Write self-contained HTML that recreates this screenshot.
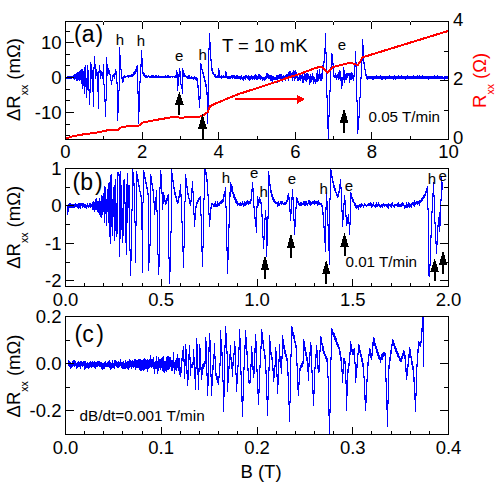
<!DOCTYPE html>
<html><head><meta charset="utf-8"><style>html,body{margin:0;padding:0;background:#fff;width:501px;height:501px;overflow:hidden}svg{display:block}</style></head>
<body><svg width="501" height="501" viewBox="0 0 501 501">
<rect width="501" height="501" fill="#fff"/>
<g fill="#0000ff" shape-rendering="crispEdges">
<path d="M66 77h1v2h-1zM67 76h1v3h-1zM68 76h1v3h-1zM69 76h1v3h-1zM70 76h1v3h-1zM71 76h1v3h-1zM72 76h1v2h-1zM73 75h1v4h-1zM74 74h1v6h-1zM75 74h1v5h-1zM76 73h1v8h-1zM77 72h1v9h-1zM78 72h1v8h-1zM79 71h1v10h-1zM80 70h1v10h-1zM81 69h1v15h-1zM82 69h1v20h-1zM83 71h1v15h-1zM84 67h1v27h-1zM85 65h1v22h-1zM86 78h1v20h-1zM87 65h1v25h-1zM88 70h1v21h-1zM89 89h1v16h-1zM90 62h1v31h-1zM91 64h1v15h-1zM92 70h1v22h-1zM93 67h1v40h-1zM94 56h1v13h-1zM95 64h1v15h-1zM96 69h1v7h-1zM97 72h1v20h-1zM98 71h1v38h-1zM99 65h1v8h-1zM100 70h1v9h-1zM101 71h1v5h-1zM102 72h1v7h-1zM103 64h1v21h-1zM104 84h1v18h-1zM105 99h1v18h-1zM106 57h1v44h-1zM107 64h1v12h-1zM108 68h1v6h-1zM109 70h1v5h-1zM110 74h1v7h-1zM111 80h1v5h-1zM112 75h1v6h-1zM113 74h1v3h-1zM114 73h1v6h-1zM115 69h1v6h-1zM116 71h1v13h-1zM117 82h1v39h-1zM118 90h1v23h-1zM119 47h1v44h-1zM120 55h1v15h-1zM121 69h1v10h-1zM122 77h1v6h-1zM123 76h1v6h-1zM124 75h1v3h-1zM125 76h1v2h-1zM126 76h1v1h-1zM127 75h1v2h-1zM128 75h1v3h-1zM129 75h1v2h-1zM130 75h1v2h-1zM131 74h1v3h-1zM132 74h1v3h-1zM133 72h1v4h-1zM134 71h1v4h-1zM135 69h1v5h-1zM136 66h1v6h-1zM137 65h1v29h-1zM138 91h1v33h-1zM139 81h1v31h-1zM140 64h1v19h-1zM141 50h1v17h-1zM142 58h1v16h-1zM143 72h1v4h-1zM144 73h1v4h-1zM145 75h1v3h-1zM146 75h1v3h-1zM147 76h1v2h-1zM148 75h1v2h-1zM149 76h1v2h-1zM150 76h1v2h-1zM151 75h1v3h-1zM152 75h1v3h-1zM153 75h1v3h-1zM154 76h1v2h-1zM155 75h1v3h-1zM156 75h1v3h-1zM157 76h1v2h-1zM158 75h1v3h-1zM159 76h1v2h-1zM160 76h1v2h-1zM161 76h1v2h-1zM162 76h1v2h-1zM163 76h1v2h-1zM164 76h1v2h-1zM165 75h1v3h-1zM166 76h1v2h-1zM167 75h1v3h-1zM168 75h1v3h-1zM169 76h1v2h-1zM170 76h1v2h-1zM171 76h1v1h-1zM172 76h1v2h-1zM173 76h1v1h-1zM174 76h1v2h-1zM175 75h1v3h-1zM176 70h1v8h-1zM177 72h1v19h-1zM178 74h1v12h-1zM179 68h1v9h-1zM180 71h1v14h-1zM181 84h1v5h-1zM182 68h1v26h-1zM183 70h1v7h-1zM184 73h1v4h-1zM185 75h1v2h-1zM186 76h1v2h-1zM187 76h1v3h-1zM188 75h1v4h-1zM189 75h1v4h-1zM190 77h1v2h-1zM191 76h1v3h-1zM192 77h1v2h-1zM193 77h1v3h-1zM194 76h1v3h-1zM195 77h1v3h-1zM196 77h1v4h-1zM197 78h1v10h-1zM198 85h1v15h-1zM199 96h1v12h-1zM200 63h1v36h-1zM201 64h1v6h-1zM202 69h1v5h-1zM203 72h1v6h-1zM204 76h1v6h-1zM205 80h1v7h-1zM206 84h1v11h-1zM207 92h1v32h-1zM208 48h1v62h-1zM209 33h1v17h-1zM210 42h1v19h-1zM211 59h1v12h-1zM212 68h1v6h-1zM213 72h1v3h-1zM214 74h1v3h-1zM215 74h1v4h-1zM216 76h1v2h-1zM217 75h1v3h-1zM218 68h1v10h-1zM219 70h1v8h-1zM220 76h1v2h-1zM221 75h1v4h-1zM222 76h1v2h-1zM223 75h1v3h-1zM224 76h1v2h-1zM225 71h1v7h-1zM226 72h1v6h-1zM227 76h1v3h-1zM228 76h1v3h-1zM229 76h1v3h-1zM230 76h1v3h-1zM231 75h1v3h-1zM232 75h1v4h-1zM233 75h1v3h-1zM234 75h1v4h-1zM235 76h1v3h-1zM236 75h1v4h-1zM237 75h1v4h-1zM238 76h1v3h-1zM239 76h1v3h-1zM240 76h1v4h-1zM241 75h1v4h-1zM242 77h1v3h-1zM243 76h1v5h-1zM244 76h1v3h-1zM245 75h1v5h-1zM246 75h1v3h-1zM247 76h1v3h-1zM248 75h1v5h-1zM249 76h1v5h-1zM250 76h1v4h-1zM251 75h1v4h-1zM252 76h1v4h-1zM253 76h1v3h-1zM254 75h1v5h-1zM255 74h1v5h-1zM256 75h1v5h-1zM257 76h1v4h-1zM258 74h1v5h-1zM259 74h1v5h-1zM260 75h1v5h-1zM261 76h1v3h-1zM262 77h1v4h-1zM263 77h1v3h-1zM264 77h1v4h-1zM265 76h1v4h-1zM266 73h1v6h-1zM267 73h1v5h-1zM268 74h1v5h-1zM269 75h1v4h-1zM270 75h1v6h-1zM271 75h1v6h-1zM272 76h1v6h-1zM273 76h1v4h-1zM274 77h1v3h-1zM275 77h1v3h-1zM276 75h1v5h-1zM277 75h1v8h-1zM278 75h1v4h-1zM279 74h1v5h-1zM280 74h1v5h-1zM281 74h1v7h-1zM282 76h1v6h-1zM283 75h1v5h-1zM284 76h1v4h-1zM285 75h1v6h-1zM286 74h1v5h-1zM287 74h1v5h-1zM288 72h1v9h-1zM289 71h1v7h-1zM290 71h1v6h-1zM291 73h1v3h-1zM292 72h1v9h-1zM293 70h1v8h-1zM294 71h1v10h-1zM295 70h1v9h-1zM296 72h1v6h-1zM297 74h1v7h-1zM298 77h1v4h-1zM299 73h1v7h-1zM300 74h1v7h-1zM301 75h1v4h-1zM302 74h1v9h-1zM303 76h1v7h-1zM304 73h1v7h-1zM305 74h1v7h-1zM306 73h1v9h-1zM307 73h1v7h-1zM308 74h1v5h-1zM309 76h1v9h-1zM310 74h1v9h-1zM311 76h1v6h-1zM312 73h1v7h-1zM313 76h1v8h-1zM314 77h1v5h-1zM315 79h1v5h-1zM316 73h1v9h-1zM317 70h1v12h-1zM318 74h1v7h-1zM319 69h1v10h-1zM320 74h1v7h-1zM321 73h1v8h-1zM322 65h1v14h-1zM323 61h1v6h-1zM324 48h1v15h-1zM325 33h1v21h-1zM326 52h1v46h-1zM327 95h1v34h-1zM328 115h1v24h-1zM329 90h1v27h-1zM330 67h1v25h-1zM331 53h1v16h-1zM332 54h1v11h-1zM333 63h1v14h-1zM334 75h1v3h-1zM335 73h1v5h-1zM336 75h1v5h-1zM337 74h1v4h-1zM338 72h1v8h-1zM339 70h1v9h-1zM340 71h1v10h-1zM341 77h1v12h-1zM342 77h1v9h-1zM343 67h1v13h-1zM344 70h1v13h-1zM345 74h1v6h-1zM346 73h1v7h-1zM347 73h1v5h-1zM348 73h1v3h-1zM349 73h1v10h-1zM350 73h1v7h-1zM351 72h1v8h-1zM352 73h1v6h-1zM353 75h1v6h-1zM354 65h1v12h-1zM355 51h1v16h-1zM356 62h1v40h-1zM357 100h1v34h-1zM358 116h1v14h-1zM359 97h1v21h-1zM360 77h1v21h-1zM361 59h1v20h-1zM362 39h1v22h-1zM363 45h1v19h-1zM364 62h1v8h-1zM365 69h1v7h-1zM366 74h1v5h-1zM367 76h1v4h-1zM368 76h1v3h-1zM369 76h1v3h-1zM370 76h1v3h-1zM371 76h1v3h-1zM372 76h1v4h-1zM373 76h1v4h-1zM374 76h1v3h-1zM375 76h1v3h-1zM376 75h1v4h-1zM377 76h1v3h-1zM378 76h1v3h-1zM379 76h1v3h-1zM380 75h1v4h-1zM381 76h1v4h-1zM382 76h1v4h-1zM383 76h1v3h-1zM384 76h1v3h-1zM385 76h1v4h-1zM386 76h1v3h-1zM387 76h1v3h-1zM388 76h1v3h-1zM389 75h1v4h-1zM390 76h1v3h-1zM391 76h1v3h-1zM392 76h1v3h-1zM393 76h1v4h-1zM394 75h1v4h-1zM395 76h1v4h-1zM396 76h1v3h-1zM397 76h1v3h-1zM398 75h1v4h-1zM399 76h1v3h-1zM400 76h1v3h-1zM401 75h1v4h-1zM402 76h1v3h-1zM403 76h1v3h-1zM404 76h1v3h-1zM405 76h1v4h-1zM406 76h1v3h-1zM407 75h1v4h-1zM408 76h1v3h-1zM409 76h1v3h-1zM410 76h1v3h-1zM411 76h1v3h-1zM412 76h1v3h-1zM413 75h1v4h-1zM414 76h1v3h-1zM415 76h1v3h-1zM416 76h1v3h-1zM417 75h1v4h-1zM418 76h1v3h-1zM419 75h1v4h-1zM420 76h1v3h-1zM421 76h1v3h-1zM422 75h1v4h-1zM423 76h1v3h-1zM424 76h1v3h-1zM425 76h1v3h-1zM426 76h1v3h-1zM427 76h1v3h-1zM428 76h1v4h-1zM429 76h1v3h-1zM430 76h1v3h-1zM431 76h1v3h-1zM432 76h1v3h-1zM433 76h1v3h-1zM434 75h1v4h-1zM435 76h1v3h-1zM436 76h1v3h-1zM437 75h1v4h-1zM438 76h1v3h-1zM439 76h1v3h-1zM440 76h1v3h-1zM441 76h1v3h-1zM442 76h1v3h-1zM443 77h1v2h-1zM444 76h1v4h-1zM445 76h1v3h-1zM446 76h1v3h-1zM447 76h1v3h-1z"/>
<path d="M67 205h1v10h-1zM68 204h1v8h-1zM69 203h1v5h-1zM70 203h1v5h-1zM71 204h1v4h-1zM72 204h1v4h-1zM73 204h1v4h-1zM74 204h1v4h-1zM75 203h1v4h-1zM76 204h1v3h-1zM77 204h1v4h-1zM78 203h1v6h-1zM79 203h1v5h-1zM80 203h1v6h-1zM81 203h1v3h-1zM82 203h1v5h-1zM83 203h1v4h-1zM84 204h1v4h-1zM85 204h1v4h-1zM86 205h1v4h-1zM87 203h1v4h-1zM88 205h1v3h-1zM89 203h1v4h-1zM90 203h1v5h-1zM91 204h1v3h-1zM92 202h1v8h-1zM93 201h1v9h-1zM94 202h1v10h-1zM95 199h1v11h-1zM96 198h1v12h-1zM97 201h1v11h-1zM98 201h1v12h-1zM99 198h1v17h-1zM100 201h1v16h-1zM101 195h1v23h-1zM102 196h1v19h-1zM103 193h1v19h-1zM104 186h1v37h-1zM105 187h1v27h-1zM106 199h1v27h-1zM107 189h1v23h-1zM108 183h1v40h-1zM109 182h1v55h-1zM110 175h1v69h-1zM111 174h1v53h-1zM112 199h1v37h-1zM113 187h1v30h-1zM114 185h1v56h-1zM115 179h1v52h-1zM116 203h1v34h-1zM117 172h1v62h-1zM118 172h1v4h-1zM119 174h1v83h-1zM120 171h1v68h-1zM121 185h1v45h-1zM122 208h1v35h-1zM123 180h1v56h-1zM124 179h1v25h-1zM125 202h1v41h-1zM126 184h1v71h-1zM127 173h1v50h-1zM128 185h1v23h-1zM129 185h1v66h-1zM130 249h1v27h-1zM131 209h1v52h-1zM132 169h1v42h-1zM133 172h1v14h-1zM134 183h1v40h-1zM135 221h1v42h-1zM136 171h1v55h-1zM137 174h1v8h-1zM138 179h1v8h-1zM139 185h1v7h-1zM140 191h1v6h-1zM141 195h1v35h-1zM142 202h1v71h-1zM143 170h1v33h-1zM144 172h1v7h-1zM145 177h1v7h-1zM146 182h1v7h-1zM147 187h1v8h-1zM148 193h1v78h-1zM149 244h1v19h-1zM150 174h1v72h-1zM151 176h1v9h-1zM152 183h1v8h-1zM153 189h1v14h-1zM154 201h1v14h-1zM155 197h1v13h-1zM156 190h1v22h-1zM157 210h1v45h-1zM158 254h1v21h-1zM159 187h1v80h-1zM160 170h1v19h-1zM161 174h1v20h-1zM162 192h1v18h-1zM163 192h1v12h-1zM164 195h1v7h-1zM165 200h1v5h-1zM166 198h1v6h-1zM167 195h1v6h-1zM168 194h1v65h-1zM169 257h1v27h-1zM170 231h1v41h-1zM171 169h1v64h-1zM172 173h1v9h-1zM173 180h1v9h-1zM174 187h1v8h-1zM175 192h1v6h-1zM176 196h1v6h-1zM177 200h1v4h-1zM178 196h1v7h-1zM179 190h1v8h-1zM180 184h1v13h-1zM181 194h1v29h-1zM182 221h1v31h-1zM183 246h1v22h-1zM184 201h1v47h-1zM185 174h1v28h-1zM186 178h1v10h-1zM187 186h1v9h-1zM188 193h1v6h-1zM189 198h1v6h-1zM190 200h1v6h-1zM191 188h1v14h-1zM192 181h1v12h-1zM193 191h1v24h-1zM194 213h1v14h-1zM195 206h1v14h-1zM196 202h1v6h-1zM197 200h1v4h-1zM198 198h1v4h-1zM199 197h1v3h-1zM200 196h1v20h-1zM201 214h1v38h-1zM202 246h1v21h-1zM203 198h1v50h-1zM204 169h1v31h-1zM205 169h1v6h-1zM206 172h1v10h-1zM207 179h1v17h-1zM208 194h1v21h-1zM209 213h1v14h-1zM210 207h1v13h-1zM211 203h1v6h-1zM212 203h1v2h-1zM213 204h1v3h-1zM214 203h1v4h-1zM215 201h1v6h-1zM216 204h1v3h-1zM217 201h1v6h-1zM218 203h1v3h-1zM219 202h1v4h-1zM220 201h1v3h-1zM221 200h1v4h-1zM222 199h1v4h-1zM223 194h1v8h-1zM224 191h1v6h-1zM225 187h1v21h-1zM226 206h1v45h-1zM227 247h1v27h-1zM228 224h1v36h-1zM229 192h1v36h-1zM230 182h1v15h-1zM231 184h1v8h-1zM232 186h1v8h-1zM233 192h1v6h-1zM234 194h1v6h-1zM235 197h1v6h-1zM236 199h1v5h-1zM237 201h1v5h-1zM238 203h1v2h-1zM239 203h1v3h-1zM240 202h1v4h-1zM241 203h1v3h-1zM242 201h1v4h-1zM243 203h1v4h-1zM244 201h1v5h-1zM245 202h1v4h-1zM246 201h1v4h-1zM247 200h1v4h-1zM248 201h1v4h-1zM249 201h1v3h-1zM250 199h1v5h-1zM251 189h1v12h-1zM252 182h1v10h-1zM253 188h1v20h-1zM254 206h1v13h-1zM255 217h1v10h-1zM256 206h1v27h-1zM257 196h1v12h-1zM258 199h1v7h-1zM259 197h1v6h-1zM260 199h1v5h-1zM261 202h1v15h-1zM262 214h1v24h-1zM263 236h1v13h-1zM264 218h1v22h-1zM265 210h1v10h-1zM266 217h1v40h-1zM267 216h1v30h-1zM268 171h1v48h-1zM269 175h1v11h-1zM270 184h1v9h-1zM271 190h1v7h-1zM272 194h1v6h-1zM273 197h1v5h-1zM274 199h1v4h-1zM275 201h1v3h-1zM276 202h1v2h-1zM277 202h1v5h-1zM278 201h1v5h-1zM279 203h1v3h-1zM280 201h1v3h-1zM281 201h1v4h-1zM282 201h1v3h-1zM283 203h1v2h-1zM284 202h1v3h-1zM285 202h1v3h-1zM286 200h1v4h-1zM287 195h1v7h-1zM288 193h1v7h-1zM289 197h1v15h-1zM290 209h1v12h-1zM291 197h1v17h-1zM292 189h1v11h-1zM293 197h1v24h-1zM294 219h1v16h-1zM295 207h1v20h-1zM296 197h1v12h-1zM297 198h1v5h-1zM298 201h1v4h-1zM299 203h1v3h-1zM300 202h1v4h-1zM301 202h1v4h-1zM302 203h1v2h-1zM303 201h1v4h-1zM304 201h1v5h-1zM305 201h1v5h-1zM306 201h1v4h-1zM307 203h1v3h-1zM308 200h1v4h-1zM309 200h1v5h-1zM310 201h1v5h-1zM311 202h1v3h-1zM312 201h1v3h-1zM313 201h1v3h-1zM314 200h1v5h-1zM315 201h1v3h-1zM316 201h1v3h-1zM317 201h1v5h-1zM318 200h1v5h-1zM319 202h1v3h-1zM320 203h1v2h-1zM321 203h1v4h-1zM322 205h1v10h-1zM323 212h1v16h-1zM324 226h1v17h-1zM325 207h1v45h-1zM326 192h1v18h-1zM327 201h1v25h-1zM328 224h1v27h-1zM329 198h1v67h-1zM330 169h1v31h-1zM331 170h1v8h-1zM332 176h1v7h-1zM333 181h1v7h-1zM334 185h1v6h-1zM335 188h1v5h-1zM336 192h1v4h-1zM337 194h1v4h-1zM338 191h1v6h-1zM339 184h1v9h-1zM340 179h1v10h-1zM341 187h1v25h-1zM342 210h1v17h-1zM343 203h1v17h-1zM344 195h1v10h-1zM345 200h1v17h-1zM346 215h1v11h-1zM347 217h1v7h-1zM348 214h1v10h-1zM349 222h1v13h-1zM350 192h1v33h-1zM351 193h1v6h-1zM352 197h1v5h-1zM353 199h1v4h-1zM354 202h1v4h-1zM355 203h1v5h-1zM356 205h1v4h-1zM357 205h1v3h-1zM358 205h1v5h-1zM359 204h1v3h-1zM360 204h1v4h-1zM361 203h1v4h-1zM362 204h1v2h-1zM363 205h1v3h-1zM364 203h1v3h-1zM365 204h1v2h-1zM366 205h1v2h-1zM367 204h1v2h-1zM368 203h1v3h-1zM369 203h1v3h-1zM370 202h1v4h-1zM371 203h1v5h-1zM372 204h1v3h-1zM373 202h1v4h-1zM374 205h1v2h-1zM375 204h1v4h-1zM376 202h1v5h-1zM377 204h1v3h-1zM378 202h1v4h-1zM379 204h1v3h-1zM380 205h1v3h-1zM381 204h1v3h-1zM382 204h1v4h-1zM383 203h1v3h-1zM384 204h1v3h-1zM385 204h1v2h-1zM386 204h1v3h-1zM387 204h1v4h-1zM388 203h1v6h-1zM389 204h1v2h-1zM390 204h1v3h-1zM391 203h1v5h-1zM392 202h1v4h-1zM393 205h1v2h-1zM394 204h1v4h-1zM395 204h1v2h-1zM396 204h1v2h-1zM397 203h1v4h-1zM398 202h1v5h-1zM399 204h1v3h-1zM400 204h1v3h-1zM401 203h1v4h-1zM402 202h1v4h-1zM403 203h1v3h-1zM404 205h1v4h-1zM405 205h1v3h-1zM406 202h1v6h-1zM407 204h1v4h-1zM408 202h1v5h-1zM409 203h1v5h-1zM410 204h1v3h-1zM411 203h1v5h-1zM412 202h1v3h-1zM413 202h1v4h-1zM414 200h1v7h-1zM415 202h1v3h-1zM416 201h1v3h-1zM417 201h1v4h-1zM418 201h1v3h-1zM419 200h1v6h-1zM420 200h1v3h-1zM421 198h1v4h-1zM422 197h1v4h-1zM423 195h1v4h-1zM424 194h1v4h-1zM425 191h1v5h-1zM426 188h1v5h-1zM427 186h1v24h-1zM428 208h1v68h-1zM429 264h1v13h-1zM430 235h1v31h-1zM431 211h1v27h-1zM432 193h1v20h-1zM433 182h1v15h-1zM434 195h1v29h-1zM435 222h1v22h-1zM436 241h1v13h-1zM437 225h1v20h-1zM438 217h1v10h-1zM439 212h1v20h-1zM440 199h1v27h-1zM441 177h1v24h-1zM442 182h1v8h-1z"/>
<path d="M68 360h1v6h-1zM69 361h1v6h-1zM70 362h1v7h-1zM71 363h1v5h-1zM72 361h1v6h-1zM73 360h1v6h-1zM74 360h1v7h-1zM75 361h1v5h-1zM76 363h1v6h-1zM77 362h1v6h-1zM78 361h1v6h-1zM79 362h1v5h-1zM80 361h1v8h-1zM81 361h1v5h-1zM82 362h1v5h-1zM83 361h1v5h-1zM84 361h1v9h-1zM85 361h1v8h-1zM86 363h1v5h-1zM87 362h1v6h-1zM88 363h1v6h-1zM89 362h1v6h-1zM90 361h1v6h-1zM91 362h1v6h-1zM92 361h1v6h-1zM93 362h1v5h-1zM94 361h1v7h-1zM95 362h1v7h-1zM96 362h1v5h-1zM97 361h1v6h-1zM98 361h1v5h-1zM99 361h1v6h-1zM100 362h1v5h-1zM101 362h1v7h-1zM102 363h1v7h-1zM103 363h1v6h-1zM104 362h1v7h-1zM105 361h1v6h-1zM106 363h1v4h-1zM107 362h1v5h-1zM108 361h1v6h-1zM109 360h1v8h-1zM110 362h1v8h-1zM111 363h1v6h-1zM112 360h1v8h-1zM113 363h1v5h-1zM114 360h1v9h-1zM115 360h1v6h-1zM116 361h1v6h-1zM117 362h1v6h-1zM118 361h1v7h-1zM119 362h1v5h-1zM120 359h1v7h-1zM121 362h1v6h-1zM122 362h1v7h-1zM123 361h1v8h-1zM124 363h1v6h-1zM125 360h1v9h-1zM126 362h1v6h-1zM127 361h1v8h-1zM128 361h1v9h-1zM129 359h1v9h-1zM130 360h1v7h-1zM131 361h1v8h-1zM132 360h1v7h-1zM133 361h1v7h-1zM134 359h1v8h-1zM135 359h1v11h-1zM136 360h1v8h-1zM137 360h1v8h-1zM138 359h1v9h-1zM139 359h1v11h-1zM140 359h1v12h-1zM141 360h1v11h-1zM142 360h1v10h-1zM143 359h1v12h-1zM144 358h1v12h-1zM145 359h1v10h-1zM146 360h1v9h-1zM147 359h1v13h-1zM148 360h1v9h-1zM149 359h1v9h-1zM150 355h1v12h-1zM151 359h1v9h-1zM152 359h1v8h-1zM153 357h1v12h-1zM154 362h1v12h-1zM155 361h1v8h-1zM156 356h1v13h-1zM157 361h1v13h-1zM158 357h1v14h-1zM159 359h1v9h-1zM160 359h1v11h-1zM161 358h1v10h-1zM162 357h1v14h-1zM163 356h1v16h-1zM164 361h1v12h-1zM165 361h1v10h-1zM166 357h1v15h-1zM167 356h1v14h-1zM168 356h1v14h-1zM169 357h1v12h-1zM170 357h1v10h-1zM171 360h1v11h-1zM172 360h1v11h-1zM173 352h1v16h-1zM174 362h1v12h-1zM175 360h1v10h-1zM176 358h1v13h-1zM177 354h1v14h-1zM178 358h1v13h-1zM179 358h1v17h-1zM180 367h1v10h-1zM181 358h1v15h-1zM182 350h1v11h-1zM183 346h1v16h-1zM184 359h1v20h-1zM185 344h1v22h-1zM186 349h1v25h-1zM187 370h1v16h-1zM188 354h1v26h-1zM189 345h1v15h-1zM190 357h1v19h-1zM191 364h1v4h-1zM192 362h1v6h-1zM193 349h1v16h-1zM194 357h1v22h-1zM195 367h1v23h-1zM196 338h1v31h-1zM197 344h1v31h-1zM198 368h1v22h-1zM199 344h1v28h-1zM200 348h1v22h-1zM201 367h1v13h-1zM202 364h1v11h-1zM203 363h1v6h-1zM204 361h1v6h-1zM205 337h1v27h-1zM206 341h1v35h-1zM207 373h1v23h-1zM208 347h1v39h-1zM209 333h1v19h-1zM210 340h1v37h-1zM211 374h1v22h-1zM212 365h1v21h-1zM213 354h1v16h-1zM214 343h1v16h-1zM215 356h1v20h-1zM216 373h1v7h-1zM217 376h1v7h-1zM218 376h1v9h-1zM219 363h1v15h-1zM220 330h1v36h-1zM221 339h1v17h-1zM222 352h1v30h-1zM223 380h1v32h-1zM224 345h1v52h-1zM225 326h1v22h-1zM226 333h1v21h-1zM227 351h1v41h-1zM228 366h1v17h-1zM229 354h1v15h-1zM230 345h1v15h-1zM231 357h1v12h-1zM232 362h1v15h-1zM233 353h1v13h-1zM234 341h1v14h-1zM235 346h1v29h-1zM236 373h1v19h-1zM237 365h1v19h-1zM238 347h1v20h-1zM239 329h1v21h-1zM240 338h1v37h-1zM241 371h1v31h-1zM242 396h1v21h-1zM243 367h1v34h-1zM244 345h1v25h-1zM245 330h1v19h-1zM246 337h1v18h-1zM247 351h1v20h-1zM248 368h1v15h-1zM249 380h1v4h-1zM250 364h1v19h-1zM251 346h1v21h-1zM252 352h1v18h-1zM253 366h1v12h-1zM254 348h1v26h-1zM255 334h1v19h-1zM256 341h1v31h-1zM257 369h1v25h-1zM258 389h1v16h-1zM259 365h1v28h-1zM260 346h1v22h-1zM261 329h1v20h-1zM262 332h1v12h-1zM263 340h1v11h-1zM264 349h1v10h-1zM265 355h1v19h-1zM266 370h1v30h-1zM267 396h1v20h-1zM268 367h1v33h-1zM269 335h1v36h-1zM270 341h1v14h-1zM271 352h1v8h-1zM272 357h1v14h-1zM273 368h1v14h-1zM274 365h1v13h-1zM275 347h1v20h-1zM276 351h1v26h-1zM277 374h1v20h-1zM278 359h1v26h-1zM279 344h1v18h-1zM280 356h1v12h-1zM281 356h1v18h-1zM282 335h1v24h-1zM283 339h1v10h-1zM284 345h1v9h-1zM285 350h1v7h-1zM286 354h1v7h-1zM287 358h1v18h-1zM288 372h1v33h-1zM289 401h1v21h-1zM290 354h1v49h-1zM291 326h1v31h-1zM292 327h1v9h-1zM293 332h1v7h-1zM294 335h1v8h-1zM295 341h1v7h-1zM296 345h1v21h-1zM297 363h1v27h-1zM298 382h1v14h-1zM299 368h1v17h-1zM300 365h1v6h-1zM301 363h1v5h-1zM302 361h1v6h-1zM303 339h1v25h-1zM304 341h1v10h-1zM305 347h1v9h-1zM306 352h1v9h-1zM307 357h1v15h-1zM308 363h1v18h-1zM309 352h1v15h-1zM310 342h1v14h-1zM311 345h1v28h-1zM312 370h1v24h-1zM313 390h1v16h-1zM314 367h1v27h-1zM315 354h1v15h-1zM316 345h1v13h-1zM317 350h1v19h-1zM318 365h1v8h-1zM319 350h1v22h-1zM320 336h1v16h-1zM321 337h1v8h-1zM322 343h1v8h-1zM323 346h1v8h-1zM324 351h1v5h-1zM325 354h1v5h-1zM326 356h1v6h-1zM327 358h1v20h-1zM328 376h1v40h-1zM329 409h1v25h-1zM330 357h1v56h-1zM331 328h1v32h-1zM332 329h1v6h-1zM333 332h1v5h-1zM334 333h1v7h-1zM335 336h1v6h-1zM336 338h1v7h-1zM337 342h1v5h-1zM338 344h1v5h-1zM339 347h1v8h-1zM340 351h1v10h-1zM341 357h1v15h-1zM342 369h1v14h-1zM343 358h1v16h-1zM344 358h1v6h-1zM345 361h1v23h-1zM346 380h1v31h-1zM347 369h1v27h-1zM348 363h1v10h-1zM349 352h1v14h-1zM350 341h1v14h-1zM351 344h1v8h-1zM352 349h1v6h-1zM353 349h1v6h-1zM354 348h1v16h-1zM355 362h1v21h-1zM356 364h1v14h-1zM357 353h1v15h-1zM358 344h1v11h-1zM359 345h1v8h-1zM360 350h1v7h-1zM361 354h1v8h-1zM362 358h1v9h-1zM363 363h1v15h-1zM364 376h1v24h-1zM365 395h1v16h-1zM366 379h1v24h-1zM367 362h1v20h-1zM368 354h1v12h-1zM369 348h1v8h-1zM370 349h1v9h-1zM371 353h1v7h-1zM372 342h1v14h-1zM373 337h1v9h-1zM374 338h1v8h-1zM375 343h1v6h-1zM376 346h1v7h-1zM377 349h1v7h-1zM378 352h1v7h-1zM379 355h1v5h-1zM380 357h1v6h-1zM381 354h1v6h-1zM382 353h1v7h-1zM383 352h1v5h-1zM384 352h1v4h-1zM385 353h1v29h-1zM386 378h1v32h-1zM387 400h1v27h-1zM388 365h1v39h-1zM389 357h1v12h-1zM390 350h1v11h-1zM391 344h1v10h-1zM392 339h1v7h-1zM393 340h1v6h-1zM394 343h1v6h-1zM395 346h1v6h-1zM396 348h1v6h-1zM397 351h1v6h-1zM398 353h1v5h-1zM399 356h1v5h-1zM400 358h1v4h-1zM401 356h1v6h-1zM402 353h1v6h-1zM403 350h1v6h-1zM404 351h1v8h-1zM405 355h1v17h-1zM406 368h1v12h-1zM407 364h1v12h-1zM408 354h1v13h-1zM409 347h1v11h-1zM410 349h1v9h-1zM411 356h1v9h-1zM412 361h1v9h-1zM413 366h1v16h-1zM414 377h1v23h-1zM415 393h1v19h-1zM416 364h1v32h-1zM417 349h1v18h-1zM418 341h1v12h-1zM419 342h1v4h-1zM420 341h1v6h-1zM421 328h1v15h-1zM422 317h1v15h-1zM423 317h1v50h-1z"/>
</g>
<polyline points="65.5,138.5 72.4,136.4 83.6,134.3 94.7,132.9 105.9,130.8 108.7,129.5 118.5,129.5 121.3,127.4 130.0,125.8 137.7,126.5 143.3,122.4 158.0,119.6 173.3,117.0 179.0,117.5 181.7,118.0 184.0,117.5 200.0,116.5 204.0,115.0 208.0,111.7 210.0,106.3 214.3,104.0 230.0,97.5 238.5,94.1 266.7,85.0 290.0,77.0 300.0,73.9 315.0,68.1 322.0,66.5 327.4,72.9 333.4,66.9 350.7,62.7 357.9,65.1 362.7,57.3 370.0,55.0 448.0,31.0" fill="none" stroke="#ff0000" stroke-width="2" shape-rendering="crispEdges"/>
<rect x="235" y="98" width="63" height="2" fill="#ff0000" shape-rendering="crispEdges"/>
<polygon points="297,95 305,99 297,104" fill="#ff0000" shape-rendering="crispEdges"/>
<path d="M65 21H449V140H65z M66 22V139H448V22z M65 168H449V287H65z M66 169V286H448V169z M65 316H449V435H65z M66 317V434H448V317z M103 136V139h1V136z M103 21V25h1V21z M142 132V139h1V132z M142 21V29h1V21z M180 136V139h1V136z M180 21V25h1V21z M218 132V139h1V132z M218 21V29h1V21z M257 136V139h1V136z M257 21V25h1V21z M295 132V139h1V132z M295 21V29h1V21z M333 136V139h1V136z M333 21V25h1V21z M371 132V139h1V132z M371 21V29h1V21z M410 136V139h1V136z M410 21V25h1V21z M84 283V286h1V283z M103 283V286h1V283z M122 283V286h1V283z M142 283V286h1V283z M161 279V286h1V279z M180 283V286h1V283z M199 283V286h1V283z M218 283V286h1V283z M237 283V286h1V283z M257 279V286h1V279z M276 283V286h1V283z M295 283V286h1V283z M314 283V286h1V283z M333 283V286h1V283z M352 279V286h1V279z M371 283V286h1V283z M391 283V286h1V283z M410 283V286h1V283z M429 283V286h1V283z M84 431V434h1V431z M103 431V434h1V431z M122 431V434h1V431z M142 431V434h1V431z M161 427V434h1V427z M180 431V434h1V431z M199 431V434h1V431z M218 431V434h1V431z M237 431V434h1V431z M257 427V434h1V427z M276 431V434h1V431z M295 431V434h1V431z M314 431V434h1V431z M333 431V434h1V431z M352 427V434h1V427z M371 431V434h1V431z M391 431V434h1V431z M410 431V434h1V431z M429 431V434h1V431z M65 42H74v1H65z M65 77H74v1H65z M65 112H74v1H65z M65 31H70v1H65z M65 54H70v1H65z M65 65H70v1H65z M65 89H70v1H65z M65 100H70v1H65z M65 124H70v1H65z M65 135H70v1H65z M440 80H448v1H440z M444 51H448v1H444z M444 110H448v1H444z M65 205H74v1H65z M440 205H448v1H440z M65 243H74v1H65z M440 243H448v1H440z M65 280H74v1H65z M440 280H448v1H440z M65 187H70v1H65z M444 187H448v1H444z M65 224H70v1H65z M444 224H448v1H444z M65 262H70v1H65z M444 262H448v1H444z M440 168H448v1H440z M65 363H74v1H65z M440 363H448v1H440z M65 410H74v1H65z M440 410H448v1H440z M65 340H70v1H65z M444 340H448v1H444z M65 387H70v1H65z M444 387H448v1H444z M440 316H448v1H440z" fill="#000" shape-rendering="crispEdges"/>
<polygon points="179.3,91.4 183.8,104.6 174.8,104.6" fill="#000" shape-rendering="crispEdges"/><rect x="178.3" y="103.6" width="2.0" height="11.1" fill="#000" shape-rendering="crispEdges"/>
<polygon points="202.5,114.1 207.0,128.5 198.0,128.5" fill="#000" shape-rendering="crispEdges"/><rect x="201.5" y="127.5" width="2.0" height="12.5" fill="#000" shape-rendering="crispEdges"/>
<polygon points="344.1,108.1 348.3,122.5 339.9,122.5" fill="#000" shape-rendering="crispEdges"/><rect x="343.1" y="121.5" width="2.0" height="11.2" fill="#000" shape-rendering="crispEdges"/>
<polygon points="265.0,254.8 269.0,269.5 261.0,269.5" fill="#000" shape-rendering="crispEdges"/><rect x="264.0" y="268.5" width="2.0" height="10.8" fill="#000" shape-rendering="crispEdges"/>
<polygon points="291.0,232.9 295.0,247.8 287.0,247.8" fill="#000" shape-rendering="crispEdges"/><rect x="290.0" y="246.8" width="2.0" height="10.8" fill="#000" shape-rendering="crispEdges"/>
<polygon points="326.2,259.7 330.2,273.7 322.2,273.7" fill="#000" shape-rendering="crispEdges"/><rect x="325.2" y="272.7" width="2.0" height="10.8" fill="#000" shape-rendering="crispEdges"/>
<polygon points="344.5,232.5 348.8,247.1 340.2,247.1" fill="#000" shape-rendering="crispEdges"/><rect x="343.5" y="246.1" width="2.0" height="10.1" fill="#000" shape-rendering="crispEdges"/>
<polygon points="434.6,258.3 438.8,271.6 430.4,271.6" fill="#000" shape-rendering="crispEdges"/><rect x="433.6" y="270.6" width="2.0" height="10.8" fill="#000" shape-rendering="crispEdges"/>
<polygon points="443.1,250.0 447.1,264.6 439.1,264.6" fill="#000" shape-rendering="crispEdges"/><rect x="442.1" y="263.6" width="2.0" height="10.8" fill="#000" shape-rendering="crispEdges"/>
<g font-family="Liberation Sans"><text x="61.5" y="48.5" font-size="18.5" text-anchor="end" fill="#000" >10</text><text x="61.5" y="83.5" font-size="18.5" text-anchor="end" fill="#000" >0</text><text x="61.5" y="118.5" font-size="18.5" text-anchor="end" fill="#000" >-10</text><text x="65.5" y="157.5" font-size="18.5" text-anchor="middle" fill="#000" >0</text><text x="142.1" y="157.5" font-size="18.5" text-anchor="middle" fill="#000" >2</text><text x="218.7" y="157.5" font-size="18.5" text-anchor="middle" fill="#000" >4</text><text x="295.3" y="157.5" font-size="18.5" text-anchor="middle" fill="#000" >6</text><text x="371.9" y="157.5" font-size="18.5" text-anchor="middle" fill="#000" >8</text><text x="448.5" y="157.5" font-size="18.5" text-anchor="middle" fill="#000" >10</text><text x="453.0" y="26.0" font-size="18.5" text-anchor="start" fill="#000" >4</text><text x="453.0" y="85.0" font-size="18.5" text-anchor="start" fill="#000" >2</text><text x="453.0" y="144.0" font-size="18.5" text-anchor="start" fill="#000" >0</text><text x="61.5" y="174.5" font-size="18.5" text-anchor="end" fill="#000" >1</text><text x="61.5" y="211.5" font-size="18.5" text-anchor="end" fill="#000" >0</text><text x="61.5" y="249.5" font-size="18.5" text-anchor="end" fill="#000" >-1</text><text x="61.5" y="286.5" font-size="18.5" text-anchor="end" fill="#000" >-2</text><text x="65.5" y="305.5" font-size="18.5" text-anchor="middle" fill="#000" >0.0</text><text x="161.2" y="305.5" font-size="18.5" text-anchor="middle" fill="#000" >0.5</text><text x="257.0" y="305.5" font-size="18.5" text-anchor="middle" fill="#000" >1.0</text><text x="352.8" y="305.5" font-size="18.5" text-anchor="middle" fill="#000" >1.5</text><text x="448.5" y="305.5" font-size="18.5" text-anchor="middle" fill="#000" >2.0</text><text x="61.5" y="322.5" font-size="18.5" text-anchor="end" fill="#000" >0.2</text><text x="61.5" y="369.5" font-size="18.5" text-anchor="end" fill="#000" >0.0</text><text x="61.5" y="416.5" font-size="18.5" text-anchor="end" fill="#000" >-0.2</text><text x="65.5" y="453.5" font-size="18.5" text-anchor="middle" fill="#000" >0.0</text><text x="161.2" y="453.5" font-size="18.5" text-anchor="middle" fill="#000" >0.1</text><text x="257.0" y="453.5" font-size="18.5" text-anchor="middle" fill="#000" >0.2</text><text x="352.8" y="453.5" font-size="18.5" text-anchor="middle" fill="#000" >0.3</text><text x="448.5" y="453.5" font-size="18.5" text-anchor="middle" fill="#000" >0.4</text><text x="261.0" y="478.0" font-size="18.5" text-anchor="middle" fill="#000" >B (T)</text><text x="74.0" y="42.0" font-size="23.0" text-anchor="start" fill="#000" >(a<tspan dx="1">)</tspan></text><text x="72.5" y="190.0" font-size="23.0" text-anchor="start" fill="#000" >(b<tspan dx="2">)</tspan></text><text x="74.5" y="342.0" font-size="23.0" text-anchor="start" fill="#000" >(c<tspan dx="2.5">)</tspan></text><text x="119.8" y="44.9" font-size="15.0" text-anchor="middle" fill="#000" >h</text><text x="140.9" y="45.7" font-size="15.0" text-anchor="middle" fill="#000" >h</text><text x="179.2" y="61.2" font-size="15.0" text-anchor="middle" fill="#000" >e</text><text x="202.6" y="59.5" font-size="15.0" text-anchor="middle" fill="#000" >h</text><text x="342.0" y="50.1" font-size="15.0" text-anchor="middle" fill="#000" >e</text><text x="226.0" y="183.0" font-size="15.0" text-anchor="middle" fill="#000" >h</text><text x="254.1" y="177.6" font-size="15.0" text-anchor="middle" fill="#000" >e</text><text x="263.7" y="197.3" font-size="15.0" text-anchor="middle" fill="#000" >h</text><text x="291.8" y="183.6" font-size="15.0" text-anchor="middle" fill="#000" >e</text><text x="323.7" y="194.3" font-size="15.0" text-anchor="middle" fill="#000" >h</text><text x="348.9" y="190.7" font-size="15.0" text-anchor="middle" fill="#000" >e</text><text x="431.9" y="183.6" font-size="15.0" text-anchor="middle" fill="#000" >h</text><text x="442.7" y="180.6" font-size="15.0" text-anchor="middle" fill="#000" >e</text><text x="222.0" y="51.6" font-size="18.5" text-anchor="start" fill="#000" >T = 10 mK</text><text x="368.5" y="121.9" font-size="15.2" text-anchor="start" fill="#000" >0.05 T/min</text><text x="345.5" y="266.7" font-size="15.2" text-anchor="start" fill="#000" >0.01 T/min</text><text x="79.5" y="421.0" font-size="15.3" text-anchor="start" fill="#000" >dB/dt=0.001 T/min</text><text transform="translate(20.0,79.6) rotate(-90)" font-size="18.5" text-anchor="middle" fill="#000">&#916;R<tspan font-size="10.5" dy="8">xx</tspan><tspan dy="-8"> (m&#937;)</tspan></text><text transform="translate(20.0,227.3) rotate(-90)" font-size="18.5" text-anchor="middle" fill="#000">&#916;R<tspan font-size="10.5" dy="8">xx</tspan><tspan dy="-8"> (m&#937;)</tspan></text><text transform="translate(20.0,376.0) rotate(-90)" font-size="18.5" text-anchor="middle" fill="#000">&#916;R<tspan font-size="10.5" dy="8">xx</tspan><tspan dy="-8"> (m&#937;)</tspan></text><text transform="translate(486.0,80.4) rotate(-90)" font-size="18.5" text-anchor="middle" fill="#ff0000">R<tspan font-size="10.5" dy="8">xx</tspan><tspan dy="-8"> (&#937;)</tspan></text></g>
</svg></body></html>
